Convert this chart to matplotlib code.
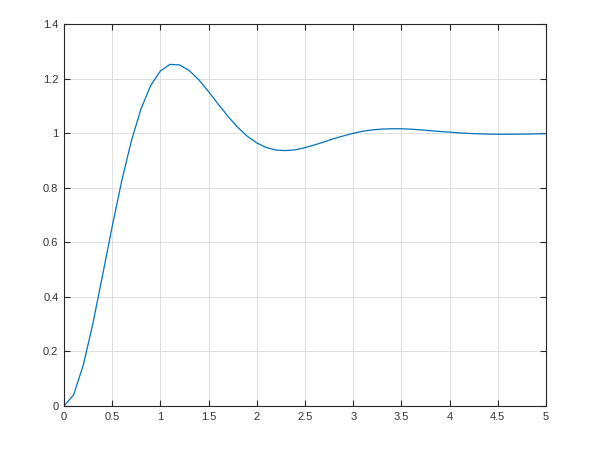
import numpy as np
import matplotlib
matplotlib.use("Agg")
import matplotlib.pyplot as plt
from matplotlib.ticker import FuncFormatter

# ---------------------------
# data (read off the reference, step response sampled every 0.1 s)
# ---------------------------
t = [0.0, 0.1, 0.2, 0.3, 0.4, 0.5, 0.6, 0.7, 0.8, 0.9,
     1.0, 1.1, 1.2, 1.3, 1.4, 1.5, 1.6, 1.7, 1.8, 1.9,
     2.0, 2.1, 2.2, 2.3, 2.4, 2.5, 2.6, 2.7, 2.8, 2.9,
     3.0, 3.1, 3.2, 3.3, 3.4, 3.5, 3.6, 3.7, 3.8, 3.9,
     4.0, 4.1, 4.2, 4.3, 4.4, 4.5, 4.6, 4.7, 4.8, 4.9, 5.0]

y = [0.000, 0.041, 0.150, 0.303, 0.479, 0.658, 0.827, 0.973, 1.090, 1.175,
     1.228, 1.252, 1.250, 1.229, 1.195, 1.152, 1.106, 1.062, 1.022, 0.989,
     0.964, 0.947, 0.938, 0.936, 0.939, 0.947, 0.957, 0.968, 0.980, 0.990,
     0.9995, 1.007, 1.012, 1.015, 1.016, 1.016, 1.0145, 1.012, 1.009, 1.006,
     1.0036, 1.001, 0.999, 0.9975, 0.9965, 0.9959, 0.9959, 0.9961, 0.9966, 0.9973, 0.9981]

x_ticks = [0, 0.5, 1, 1.5, 2, 2.5, 3, 3.5, 4, 4.5, 5]
y_ticks = [0, 0.2, 0.4, 0.6, 0.8, 1, 1.2, 1.4]

# ---------------------------
# plot
# ---------------------------
plt.rcParams["font.family"] = ["Liberation Sans", "DejaVu Sans"]

fig = plt.figure(figsize=(6.05, 4.53), dpi=100)
fig.patch.set_facecolor("white")
ax = fig.add_axes([64 / 605, 47 / 453, 482 / 605, 382 / 453])

ax.plot(t, y, color="#0072BD", linewidth=0.9)

ax.set_xlim(0, 5)
ax.set_ylim(0, 1.4)
ax.set_xticks(x_ticks)
ax.set_yticks(y_ticks)
fmt = FuncFormatter(lambda v, pos: f"{v:g}")
ax.xaxis.set_major_formatter(fmt)
ax.yaxis.set_major_formatter(fmt)

ax.grid(True, color="#e0e0e0", linewidth=0.7)
ax.set_axisbelow(True)

for side in ["left", "right", "top", "bottom"]:
    ax.spines[side].set_color("#262626")
    ax.spines[side].set_linewidth(0.8)

ax.tick_params(direction="in", length=4, width=0.8, colors="#262626",
               labelsize=8, top=True, right=True, pad=4)
for lbl in ax.get_xticklabels() + ax.get_yticklabels():
    lbl.set_color("#333333")

plt.savefig("out.png", dpi=100)
plt.close(fig)
